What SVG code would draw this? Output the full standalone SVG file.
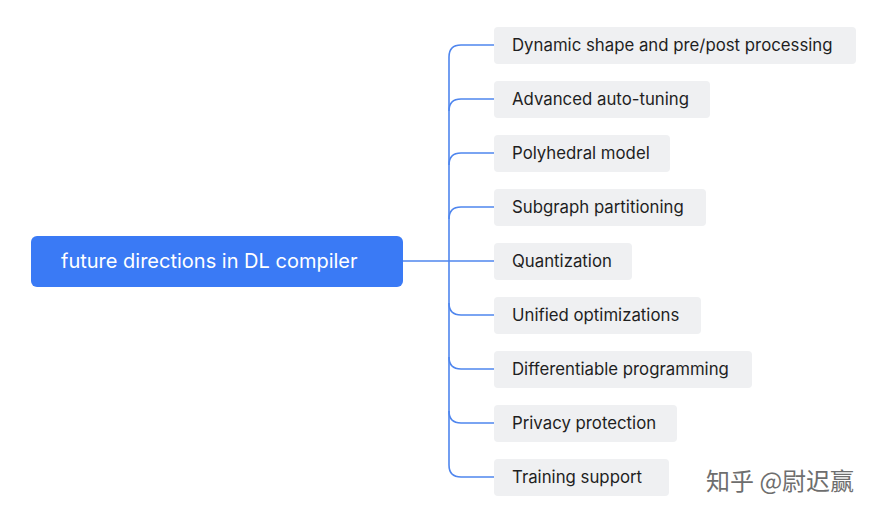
<svg xmlns="http://www.w3.org/2000/svg" width="896" height="517" viewBox="0 0 896 517">
<style>
.c{fill:#eff0f2}
.t{font-family:"Inter","Liberation Sans",sans-serif;font-size:16.8px;fill:#1f1f1f}
.e{fill:none;stroke:#4f86ee;stroke-width:1.6}
</style>
<rect width="896" height="517" fill="#fff"/>
<g id="connectors">
<path class="e" d="M403 261H494"/>
<path class="e" d="M494 45H461Q449 45 449 57V465Q449 477 461 477H494"/>
<path class="e" d="M449 111Q449 99 461 99H494M449 165Q449 153 461 153H494M449 219Q449 207 461 207H494M449 303Q449 315 461 315H494M449 357Q449 369 461 369H494M449 411Q449 423 461 423H494"/>
</g>
<g id="root"><rect x="31" y="236" width="372" height="51" rx="6" fill="#3a7af5"/><text x="61" y="268" font-family="Inter,'Liberation Sans',sans-serif" font-size="20" fill="#fff">future directions in DL compiler</text></g>
<g id="n1"><rect class="c" x="494" y="27" width="362" height="37" rx="4"/><text class="t" x="512" y="51">Dynamic shape and pre/post processing</text></g>
<g id="n2"><rect class="c" x="494" y="81" width="216" height="37" rx="4"/><text class="t" x="512" y="105">Advanced auto-tuning</text></g>
<g id="n3"><rect class="c" x="494" y="135" width="176" height="37" rx="4"/><text class="t" x="512" y="159">Polyhedral model</text></g>
<g id="n4"><rect class="c" x="494" y="189" width="212" height="37" rx="4"/><text class="t" x="512" y="213">Subgraph partitioning</text></g>
<g id="n5"><rect class="c" x="494" y="243" width="138" height="37" rx="4"/><text class="t" x="512" y="267">Quantization</text></g>
<g id="n6"><rect class="c" x="494" y="297" width="207" height="37" rx="4"/><text class="t" x="512" y="321">Unified optimizations</text></g>
<g id="n7"><rect class="c" x="494" y="351" width="258" height="37" rx="4"/><text class="t" x="512" y="375">Differentiable programming</text></g>
<g id="n8"><rect class="c" x="494" y="405" width="183" height="37" rx="4"/><text class="t" x="512" y="429">Privacy protection</text></g>
<g id="n9"><rect class="c" x="494" y="459" width="175" height="37" rx="4"/><text class="t" x="512" y="483">Training support</text></g>
<text x="706" y="490" font-family="'Noto Sans CJK SC',sans-serif" font-size="24" fill="#555" opacity="0.85">知乎 @尉迟赢</text>
</svg>
